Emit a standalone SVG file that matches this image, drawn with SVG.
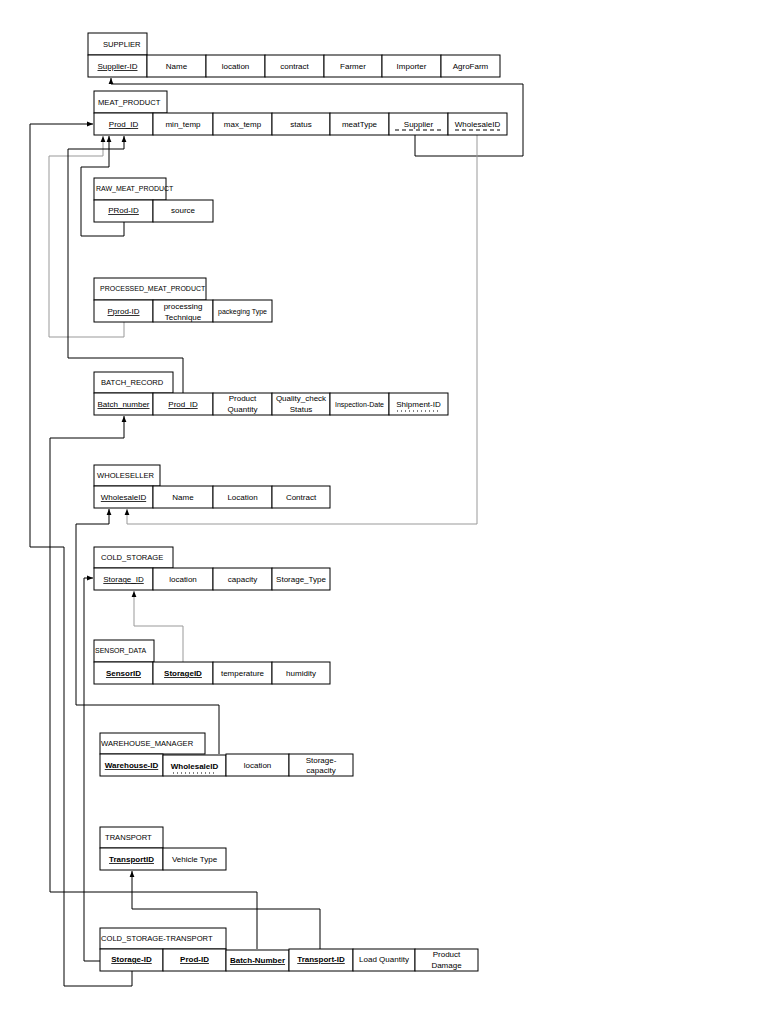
<svg xmlns="http://www.w3.org/2000/svg" width="768" height="1024" viewBox="0 0 768 1024">
<style>
rect{fill:#fff;stroke:#000;stroke-width:1}
text{font-family:"Liberation Sans",Arial,sans-serif;font-size:8px;text-anchor:middle;fill:#000}
.h{text-anchor:start;font-size:7.6px}
.s{font-size:7px}
.u{text-decoration:underline}
.b{font-weight:bold;text-decoration:underline}
.c{fill:none;stroke:#000;stroke-width:1}
.g{fill:none;stroke:#999;stroke-width:1}
.d{stroke:#000;stroke-width:1.2;stroke-dasharray:4,3}
.o{stroke:#000;stroke-width:1.2;stroke-dasharray:1,3}
</style>
<defs>
<marker id="a" viewBox="0 0 10 10" refX="10" refY="5" markerWidth="6" markerHeight="6" orient="auto"><path d="M0,1 L10,5 L0,9 z" fill="#000"/></marker>
</defs>
<rect x="0" y="0" width="768" height="1024" style="stroke:none"/>
<g id="connectors">
<path class="c" d="M415,135 V156 H523 V84 H111 V78" marker-end="url(#a)"/>
<path class="g" d="M477,135 V524 H127 V509" marker-end="url(#a)"/>
<path class="g" d="M124,322 V337 H49 V156 H103 V136" marker-end="url(#a)"/>
<path class="c" d="M124,222 V236 H81 V167 H109 V136" marker-end="url(#a)"/>
<path class="c" d="M183,393 V358 H68 V149 H124 V136" marker-end="url(#a)"/>
<path class="c" d="M132,971 V986 H64 V547 H30 V124 H93" marker-end="url(#a)"/>
<path class="c" d="M257,949 V892 H50 V438 H124 V416" marker-end="url(#a)"/>
<path class="c" d="M219,754 V705 H76 V524 H109 V509" marker-end="url(#a)"/>
<path class="c" d="M100,961 H84 V578 H93" marker-end="url(#a)"/>
<path class="g" d="M183,662 V626 H134 V591" marker-end="url(#a)"/>
<path class="c" d="M320,949 V909 H132 V871" marker-end="url(#a)"/>
</g>
<g id="supplier">
<rect x="88" y="33" width="59" height="22"/><text class="h" x="103" y="47">SUPPLIER</text>
<rect x="88" y="55" width="59" height="22"/><text class="u" x="117.5" y="69">Supplier-ID</text>
<rect x="147" y="55" width="59" height="22"/><text x="176.5" y="69">Name</text>
<rect x="206" y="55" width="59" height="22"/><text x="235.5" y="69">location</text>
<rect x="265" y="55" width="59" height="22"/><text x="294.5" y="69">contract</text>
<rect x="324" y="55" width="58" height="22"/><text x="353" y="69">Farmer</text>
<rect x="382" y="55" width="59" height="22"/><text x="411.5" y="69">Importer</text>
<rect x="441" y="55" width="59" height="22"/><text x="470.5" y="69">AgroFarm</text>
</g>
<g id="meat_product">
<rect x="94" y="91" width="73" height="22"/><text class="h" x="98" y="105">MEAT_PRODUCT</text>
<rect x="94" y="113" width="59" height="22"/><text class="u" x="123.5" y="127">Prod_ID</text>
<rect x="153" y="113" width="60" height="22"/><text x="183" y="127">min_temp</text>
<rect x="213" y="113" width="59" height="22"/><text x="242.5" y="127">max_temp</text>
<rect x="272" y="113" width="58" height="22"/><text x="301" y="127">status</text>
<rect x="330" y="113" width="59" height="22"/><text x="359.5" y="127">meatType</text>
<rect x="389" y="113" width="59" height="22"/><text x="418.5" y="127">Supplier</text>
<line class="d" x1="395" y1="130" x2="442" y2="130"/>
<rect x="448" y="113" width="59" height="22"/><text x="477.5" y="127">WholesaleID</text>
<line class="d" x1="455" y1="130" x2="500" y2="130"/>
</g>
<g id="raw_meat_product">
<rect x="94" y="178" width="72" height="22"/><text class="h s" x="96" y="191">RAW_MEAT_PRODUCT</text>
<rect x="94" y="200" width="59" height="22"/><text class="u" x="123.5" y="213">PRod-ID</text>
<rect x="153" y="200" width="60" height="22"/><text x="183" y="213">source</text>
</g>
<g id="processed_meat_product">
<rect x="94" y="278" width="112" height="22"/><text class="h s" x="100" y="291">PROCESSED_MEAT_PRODUCT</text>
<rect x="94" y="300" width="59" height="22"/><text class="u" x="123.5" y="314">Pprod-ID</text>
<rect x="153" y="300" width="60" height="22"/><text x="183" y="309">processing</text><text x="183" y="320">Technique</text>
<rect x="213" y="300" width="59" height="22"/><text x="242.5" y="314" class="s">packeging Type</text>
</g>
<g id="batch_record">
<rect x="94" y="372" width="79" height="21"/><text class="h" x="101" y="385">BATCH_RECORD</text>
<rect x="94" y="393" width="59" height="22"/><text class="u" x="123.5" y="407">Batch_number</text>
<rect x="153" y="393" width="60" height="22"/><text class="u" x="183" y="407">Prod_ID</text>
<rect x="213" y="393" width="59" height="22"/><text x="242.5" y="401">Product</text><text x="242.5" y="412">Quantity</text>
<rect x="272" y="393" width="58" height="22"/><text x="301" y="401">Quality_check</text><text x="301" y="412">Status</text>
<rect x="330" y="393" width="59" height="22"/><text x="359.5" y="407" class="s">Inspection-Date</text>
<rect x="389" y="393" width="59" height="22"/><text x="418.5" y="407">Shipment-ID</text>
<line class="o" x1="397" y1="411" x2="440" y2="411"/>
</g>
<g id="wholeseller">
<rect x="94" y="465" width="66" height="21"/><text class="h" x="97" y="478">WHOLESELLER</text>
<rect x="94" y="486" width="59" height="22"/><text class="u" x="123.5" y="500">WholesaleID</text>
<rect x="153" y="486" width="60" height="22"/><text x="183" y="500">Name</text>
<rect x="213" y="486" width="59" height="22"/><text x="242.5" y="500">Location</text>
<rect x="272" y="486" width="58" height="22"/><text x="301" y="500">Contract</text>
</g>
<g id="cold_storage">
<rect x="94" y="547" width="79" height="21"/><text class="h" x="101" y="560">COLD_STORAGE</text>
<rect x="94" y="568" width="59" height="22"/><text class="u" x="123.5" y="582">Storage_ID</text>
<rect x="153" y="568" width="60" height="22"/><text x="183" y="582">location</text>
<rect x="213" y="568" width="59" height="22"/><text x="242.5" y="582">capacity</text>
<rect x="272" y="568" width="58" height="22"/><text x="301" y="582">Storage_Type</text>
</g>
<g id="sensor_data">
<rect x="94" y="640" width="60" height="22"/><text class="h s" x="95" y="653">SENSOR_DATA</text>
<rect x="94" y="662" width="59" height="22"/><text class="b" x="123.5" y="676">SensorID</text>
<rect x="153" y="662" width="60" height="22"/><text class="b" x="183" y="676">StorageID</text>
<rect x="213" y="662" width="59" height="22"/><text x="242.5" y="676">temperature</text>
<rect x="272" y="662" width="58" height="22"/><text x="301" y="676">humidity</text>
</g>
<g id="warehouse_manager">
<rect x="100" y="733" width="105" height="21"/><text class="h" x="101" y="746">WAREHOUSE_MANAGER</text>
<rect x="100" y="754" width="63" height="22"/><text class="b" x="131.5" y="768">Warehouse-ID</text>
<rect x="163" y="755" width="63" height="21"/><text x="194.5" y="769" font-weight="bold">WholesaleID</text>
<line class="o" x1="173" y1="773" x2="216" y2="773"/>
<rect x="226" y="754" width="63" height="22"/><text x="257.5" y="768">location</text>
<rect x="289" y="754" width="64" height="22"/><text x="321" y="763">Storage-</text><text x="321" y="773">capacity</text>
</g>
<g id="transport">
<rect x="100" y="827" width="63" height="21"/><text class="h" x="105" y="840">TRANSPORT</text>
<rect x="100" y="848" width="63" height="22"/><text class="b" x="131.5" y="862">TransportID</text>
<rect x="163" y="848" width="63" height="22"/><text x="194.5" y="862">Vehicle Type</text>
</g>
<g id="cold_storage_transport">
<rect x="100" y="928" width="126" height="21"/><text class="h" x="101" y="941">COLD_STORAGE-TRANSPORT</text>
<rect x="100" y="949" width="63" height="22"/><text class="b" x="131.5" y="962">Storage-ID</text>
<rect x="163" y="949" width="63" height="22"/><text class="b" x="194.5" y="962">Prod-ID</text>
<rect x="226" y="950" width="63" height="21"/><text class="b" x="257.5" y="963">Batch-Number</text>
<rect x="289" y="949" width="64" height="22"/><text class="b" x="321" y="962">Transport-ID</text>
<rect x="353" y="949" width="62" height="22"/><text x="384" y="962">Load Quantity</text>
<rect x="415" y="949" width="63" height="22"/><text x="446.5" y="957">Product</text><text x="446.5" y="968">Damage</text>
</g>
</svg>
